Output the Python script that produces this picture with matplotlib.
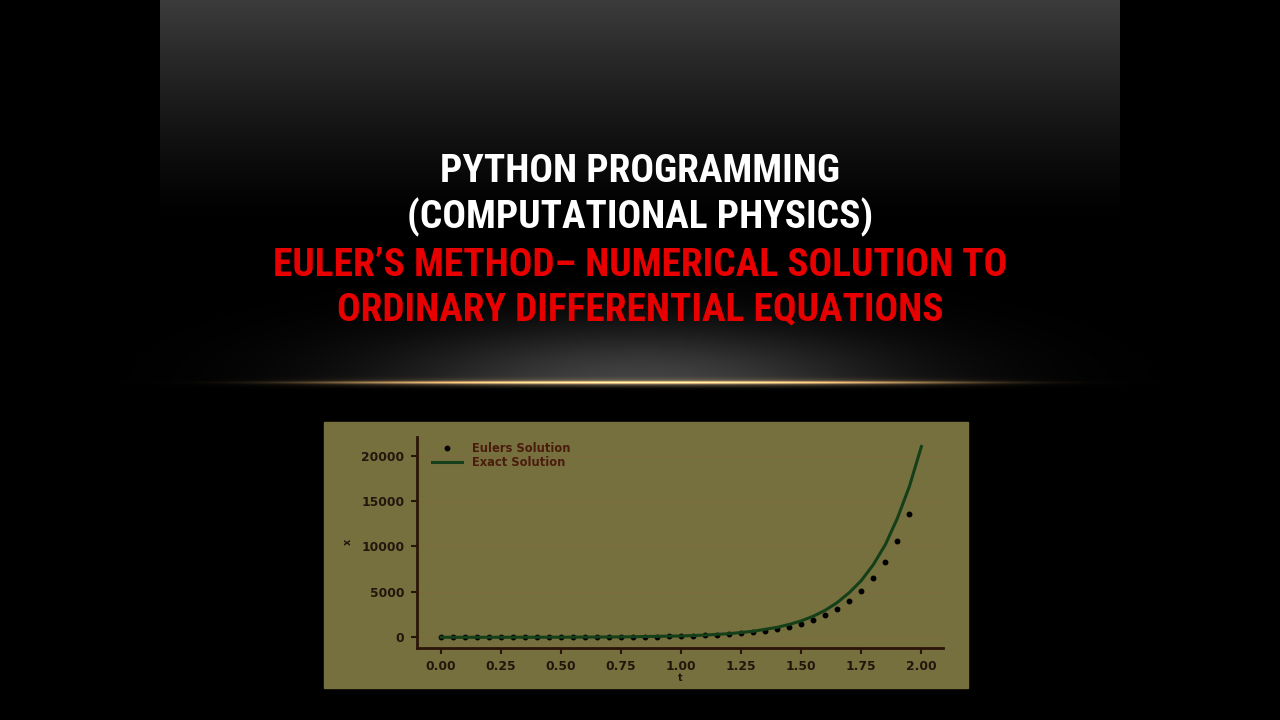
import matplotlib
matplotlib.use("Agg")
import matplotlib.pyplot as plt
import numpy as np

# values
t_euler = [0.00, 0.05, 0.10, 0.15, 0.20, 0.25, 0.30, 0.35, 0.40, 0.45,
           0.50, 0.55, 0.60, 0.65, 0.70, 0.75, 0.80, 0.85, 0.90, 0.95,
           1.00, 1.05, 1.10, 1.15, 1.20, 1.25, 1.30, 1.35, 1.40, 1.45,
           1.50, 1.55, 1.60, 1.65, 1.70, 1.75, 1.80, 1.85, 1.90, 1.95]
x_euler = [1, 1.3, 1.6, 2, 2.6, 3, 4, 5, 7, 9,
           11, 15, 19, 24, 30, 39, 49, 63, 80, 102,
           130, 166, 212, 270, 345, 440, 560, 710, 910, 1170,
           1500, 1910, 2440, 3110, 3970, 5070, 6500, 8300, 10600, 13570]

t_exact = [0.00, 0.25, 0.50, 0.75, 1.00, 1.10, 1.20, 1.30, 1.40, 1.45,
           1.50, 1.55, 1.60, 1.65, 1.70, 1.75, 1.80, 1.85, 1.90, 1.95, 2.00]
x_exact = [1, 3.5, 12, 42, 148, 245, 400, 665, 1100, 1420,
           1810, 2320, 2980, 3830, 4920, 6250, 8000, 10200, 13100, 16600, 21000]

x_ticks = [0.00, 0.25, 0.50, 0.75, 1.00, 1.25, 1.50, 1.75, 2.00]
y_ticks = [0, 5000, 10000, 15000, 20000]

title_white = ["PYTHON PROGRAMMING", "(COMPUTATIONAL PHYSICS)"]
title_red = ["EULER\u2019S METHOD\u2013 NUMERICAL SOLUTION TO",
             "ORDINARY DIFFERENTIAL EQUATIONS"]

W, H = 1280, 720
fig = plt.figure(figsize=(12.8, 7.2), dpi=100, facecolor="black")

# slide background: panel gradient, glow and golden line
yy, xx = np.mgrid[0:H, 0:W].astype(float)
panel = (xx >= 160) & (xx < 1120)
val = np.where(panel, 0.235 * np.clip(1 - yy / 225.0, 0, 1) ** 1.3, 0.0)
glow = 0.26 * np.exp(-((xx - 640) / 250.0) ** 2 - ((382 - yy) / 55.0) ** 2)
glow[yy > 382] *= np.exp(-((yy[yy > 382] - 382) / 4.0) ** 2)
val = val + glow
img = np.dstack([val, val, val])
line_x = np.exp(-np.abs((xx - 640) / 320.0) ** 4)
line_y = 0.8 * np.exp(-((yy - 382) / 1.3) ** 2) + 0.2 * np.exp(-((yy - 382) / 4.0) ** 2)
gold = np.array([0.95, 0.72, 0.40])
img = img + (line_x * line_y)[..., None] * gold
img = np.clip(img, 0, 1)

bg = fig.add_axes([0, 0, 1, 1])
bg.imshow(img, extent=(0, W, H, 0), aspect="auto", interpolation="bilinear")
bg.set_xlim(0, W)
bg.set_ylim(H, 0)
bg.axis("off")

# olive picture behind the chart
bg.add_patch(plt.Rectangle((324, 422), 644, 266, color="#76703f", zorder=2))

fnt = ["Roboto Condensed", "Liberation Sans", "DejaVu Sans"]
for i, s in enumerate(title_white):
    bg.text(640, 172 + 45 * i, s, color="white", fontsize=28.4, fontweight="bold",
            family=fnt, ha="center", va="center", zorder=3)
for i, s in enumerate(title_red):
    bg.text(640, 265 + 45 * i, s, color="#e80000", fontsize=28.4, fontweight="bold",
            family=fnt, ha="center", va="center", zorder=3)

# the chart
ax = fig.add_axes([417 / W, 1 - 647.7 / H, (943 - 417) / W, (647.7 - 437) / H])
ax.set_facecolor("#76703f")
ax.plot(t_euler, x_euler, "o", color="black", ms=3.2, label="Eulers Solution")
ax.plot(t_exact, x_exact, "-", color="#153f18", lw=2.2, label="Exact Solution")
ax.set_xlim(-0.1, 2.09)
ax.set_ylim(-1145, 22050)
ax.set_xticks(x_ticks)
ax.set_xticklabels(["%.2f" % v for v in x_ticks])
ax.set_yticks(y_ticks)
ax.grid(True, color="#84673f", lw=0.7, alpha=0.6)
ax.set_axisbelow(True)
for s in ["top", "right"]:
    ax.spines[s].set_visible(False)
for s in ["left", "bottom"]:
    ax.spines[s].set_color("#2a1408")
    ax.spines[s].set_linewidth(2)
ax.tick_params(colors="#2a1408", labelsize=8.8, width=1.5, length=4, pad=5)
for lab in ax.get_xticklabels() + ax.get_yticklabels():
    lab.set_fontweight("bold")
    lab.set_color("#23150c")
ax.set_xlabel("t", fontsize=7, fontweight="bold", color="#23150c", labelpad=0)
ax.set_ylabel("x", fontsize=7, fontweight="bold", color="#23150c", labelpad=6)
leg = ax.legend(loc="upper left", frameon=False, fontsize=8.3, handlelength=2.6,
                handletextpad=0.9, borderaxespad=0.0, labelspacing=0.15,
                bbox_to_anchor=(0.02, 1.0))
for txt in leg.get_texts():
    txt.set_color("#4a1c0c")
    txt.set_fontweight("bold")

fig.savefig("out.png", dpi=100, facecolor="black")
